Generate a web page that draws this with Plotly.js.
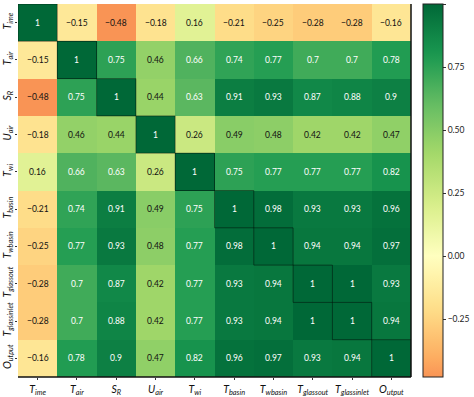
<!DOCTYPE html>
<html>
<head>
<meta charset="utf-8">
<script src="https://cdn.plot.ly/plotly-3.0.1.min.js"></script>
<style>html,body{margin:0;padding:0;background:#fff;}#chart{width:474px;height:397px;}</style>
</head>
<body>
<div id="chart"></div>
<script>
// Variables (categories)
const categories = [
  "<i>T<sub>ime</sub></i>", "<i>T<sub>air</sub></i>", "<i>S<sub>R</sub></i>", "<i>U<sub>air</sub></i>",
  "<i>T<sub>wi</sub></i>", "<i>T<sub>basin</sub></i>", "<i>T<sub>wbasin</sub></i>",
  "<i>T<sub>glassout</sub></i>", "<i>T<sub>glassinlet</sub></i>", "<i>O<sub>utput</sub></i>"
];
// Correlation rows
const rowTime       = [1, -0.15, -0.48, -0.18, 0.16, -0.21, -0.25, -0.28, -0.28, -0.16];
const rowTair       = [-0.15, 1, 0.75, 0.46, 0.66, 0.74, 0.77, 0.7, 0.7, 0.78];
const rowSR         = [-0.48, 0.75, 1, 0.44, 0.63, 0.91, 0.93, 0.87, 0.88, 0.9];
const rowUair       = [-0.18, 0.46, 0.44, 1, 0.26, 0.49, 0.48, 0.42, 0.42, 0.47];
const rowTwi        = [0.16, 0.66, 0.63, 0.26, 1, 0.75, 0.77, 0.77, 0.77, 0.82];
const rowTbasin     = [-0.21, 0.74, 0.91, 0.49, 0.75, 1, 0.98, 0.93, 0.93, 0.96];
const rowTwbasin    = [-0.25, 0.77, 0.93, 0.48, 0.77, 0.98, 1, 0.94, 0.94, 0.97];
const rowTglassout  = [-0.28, 0.7, 0.87, 0.42, 0.77, 0.93, 0.94, 1, 1, 0.93];
const rowTglassinlet= [-0.28, 0.7, 0.88, 0.42, 0.77, 0.93, 0.94, 1, 1, 0.94];
const rowOutput     = [-0.16, 0.78, 0.9, 0.47, 0.82, 0.96, 0.97, 0.93, 0.94, 1];
const colorbarTicks = [-0.25, 0, 0.25, 0.5, 0.75, 1];

const z = [rowTime, rowTair, rowSR, rowUair, rowTwi, rowTbasin, rowTwbasin, rowTglassout, rowTglassinlet, rowOutput];
const idx = categories.map((_, i) => i);

// RdYlGn centred at 0 (symmetric -1..1), cut to data range
const rdylgn = ["#a50026","#d73027","#f46d43","#fdae61","#fee08b","#ffffbf","#d9ef8b","#a6d96a","#66bd63","#1a9850","#006837"];
const flat = z.flat();
const zmin = Math.min(...flat), zmax = Math.max(...flat);
function hex2rgb(h){return [parseInt(h.slice(1,3),16),parseInt(h.slice(3,5),16),parseInt(h.slice(5,7),16)];}
function cmap(p){
  const f = p*10, i = Math.min(9, Math.floor(f)), t = f - i;
  const a = hex2rgb(rdylgn[i]), b = hex2rgb(rdylgn[i+1]);
  return `rgb(${a.map((v,k)=>Math.round(v+(b[k]-v)*t)).join(",")})`;
}
const colorscale = [];
const N = 40;
for (let k = 0; k <= N; k++) {
  const v = zmin + (zmax - zmin) * k / N;
  colorscale.push([k / N, cmap((v + 1) / 2)]);
}

const annotations = [];
z.forEach((row, r) => row.forEach((v, c) => {
  annotations.push({
    x: c, y: r, xref: "x", yref: "y", text: String(v).replace("-", "\u2212"), showarrow: false,
    font: {family: "Lato, 'DejaVu Sans', sans-serif", size: 8.5, color: v >= 0.6 ? "#ffffff" : "#111111"}
  });
}));

const shapes = idx.map(i => ({
  type: "rect", xref: "x", yref: "y", x0: i - 0.5, x1: i + 0.5, y0: i - 0.5, y1: i + 0.5,
  line: {color: "rgba(0,0,0,0.45)", width: 1}
}));
shapes.push({type: "line", xref: "paper", yref: "paper", x0: 1, x1: 1, y0: 0, y1: 1, line: {color: "#111", width: 1.5}});
shapes.push({type: "line", xref: "paper", yref: "paper", x0: 0, x1: 1, y0: 0, y1: 0, line: {color: "#111", width: 1.5}});

const trace = {
  type: "heatmap", z: z, x: idx, y: idx, zmin: zmin, zmax: zmax,
  colorscale: colorscale, xgap: 0, ygap: 0,
  colorbar: {
    x: 1.03, xanchor: "left", xpad: 0, y: 0.5, yanchor: "middle", len: 1, lenmode: "fraction", ypad: 0,
    thickness: 20, outlinecolor: "#222", outlinewidth: 1,
    tickvals: colorbarTicks, ticktext: colorbarTicks.map(v => v.toFixed(2).replace("-", "\u2212")),
    ticks: "outside", ticklen: 3, tickcolor: "#333",
    tickfont: {family: "Lato, 'DejaVu Sans', sans-serif", size: 8.5, color: "#222"}
  },
  hoverinfo: "skip"
};

const layout = {
  width: 474, height: 397,
  margin: {l: 18, r: 57, t: 4, b: 20},
  paper_bgcolor: "#fff", plot_bgcolor: "#fff",
  xaxis: {
    tickvals: idx, ticktext: categories, range: [-0.5, 9.5], showgrid: false, zeroline: false,
    ticks: "outside", ticklen: 2, tickcolor: "#333", tickangle: 0,
    tickfont: {family: "Lato, 'DejaVu Sans', sans-serif", size: 10.5, color: "#111"}
  },
  yaxis: {
    tickvals: idx, ticktext: categories, range: [9.5, -0.5], showgrid: false, zeroline: false,
    ticks: "outside", ticklen: 2, tickcolor: "#333", tickangle: -90,
    tickfont: {family: "Lato, 'DejaVu Sans', sans-serif", size: 10.5, color: "#111"}
  },
  annotations: annotations,
  shapes: shapes,
  showlegend: false
};

Plotly.newPlot("chart", [trace], layout, {displayModeBar: false, staticPlot: true});
</script>
</body>
</html>
